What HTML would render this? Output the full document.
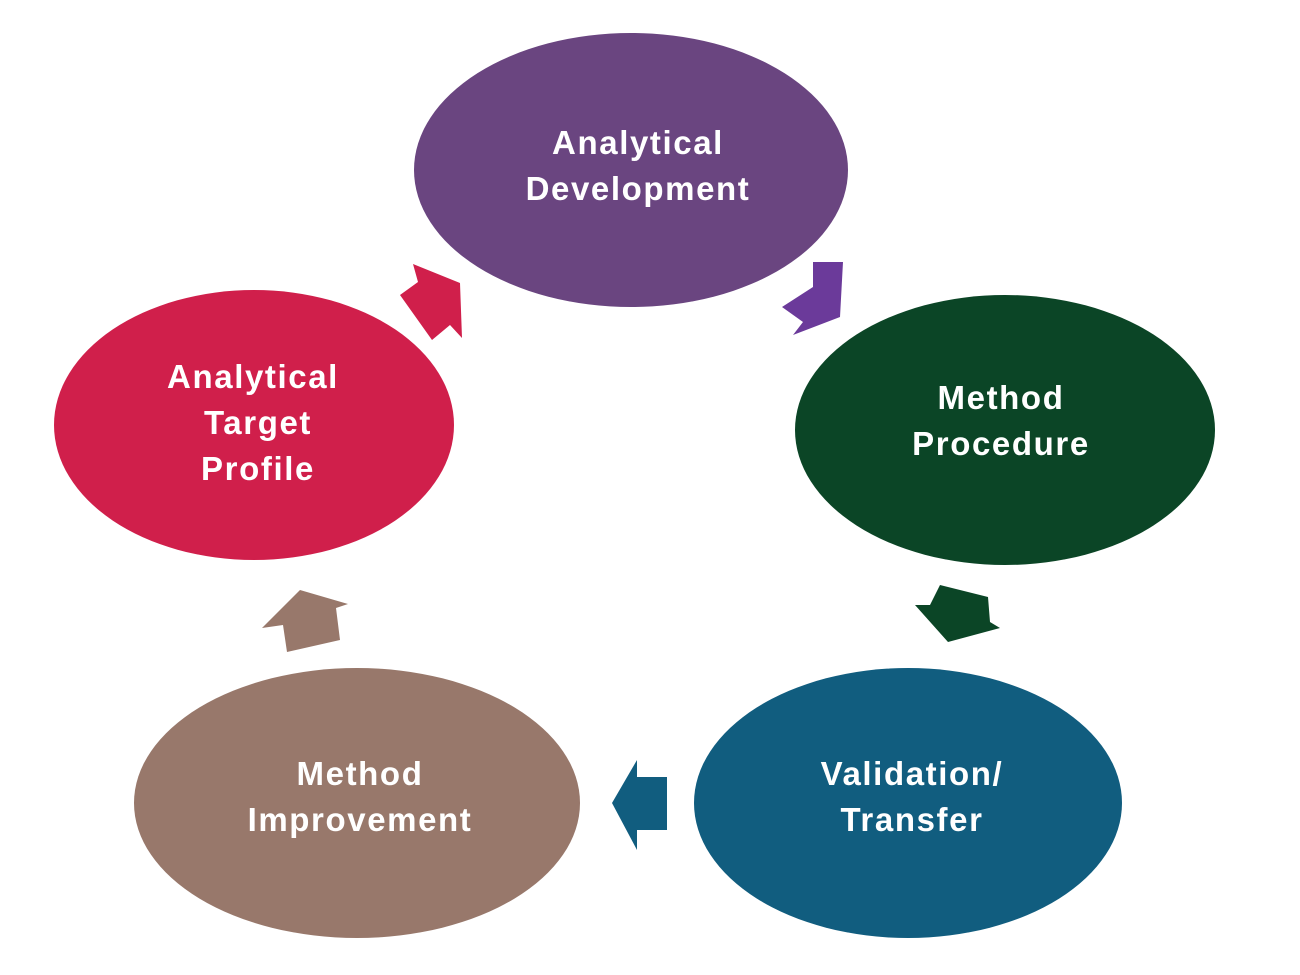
<!DOCTYPE html>
<html><head><meta charset="utf-8"><style>
html,body{margin:0;padding:0;background:#fff;}
svg text{font-family:"Liberation Sans",sans-serif;font-weight:bold;font-size:33px;fill:#fff;text-anchor:middle;letter-spacing:1.6px;}
</style></head><body>
<svg width="1300" height="970" viewBox="0 0 1300 970" xmlns="http://www.w3.org/2000/svg">
<ellipse cx="631" cy="170" rx="217" ry="137" fill="#6a4580"/>
<ellipse cx="254" cy="425" rx="200" ry="135" fill="#d01f4b"/>
<ellipse cx="1005" cy="430" rx="210" ry="135" fill="#0b4526"/>
<ellipse cx="908" cy="803" rx="214" ry="135" fill="#115d7f"/>
<ellipse cx="357" cy="803" rx="223" ry="135" fill="#98786b"/>
<polygon points="413,264 460,283 462,338 450,325 432,340 400,295 418,282" fill="#d01f4b"/>
<polygon points="813,262 843,262 840,317 793,335 803,322 782,307 813,287" fill="#6b3a9a"/>
<polygon points="300,590 348,604 336,608 340,640 287,652 283,625 262,628" fill="#98786b"/>
<polygon points="940,585 988,597 990,622 1000,628 948,642 915,605 930,605" fill="#0b4526"/>
<polygon points="612,803 637,760 637,777 667,777 667,830 637,830 637,850" fill="#115d7f"/>
<text x="638" y="154">Analytical</text>
<text x="638" y="200">Development</text>
<text x="253" y="388">Analytical</text>
<text x="258" y="434">Target</text>
<text x="258" y="480">Profile</text>
<text x="1001" y="409">Method</text>
<text x="1001" y="455">Procedure</text>
<text x="912" y="785">Validation/</text>
<text x="912" y="831">Transfer</text>
<text x="360" y="785">Method</text>
<text x="360" y="831">Improvement</text>
</svg>
</body></html>
